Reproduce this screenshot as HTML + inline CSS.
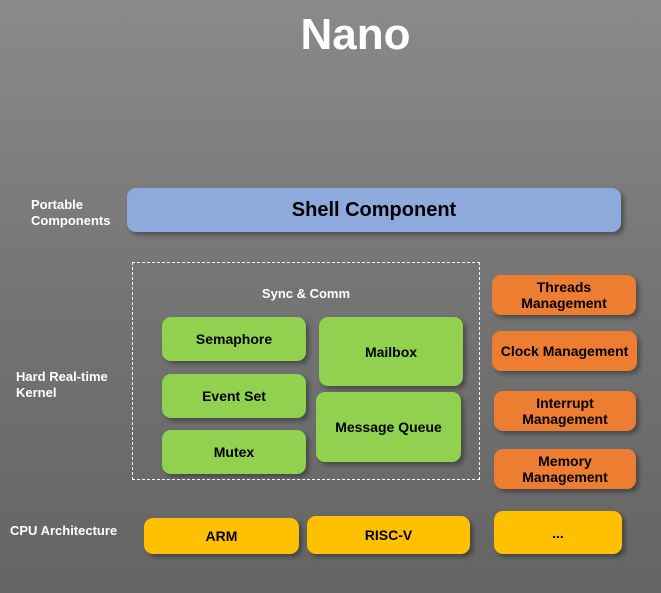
<!DOCTYPE html>
<html><head><style>
body{margin:0;width:661px;height:593px;overflow:hidden;background:linear-gradient(180deg,#8a8a8a 0%,#747474 50%,#646464 100%);font-family:"Liberation Sans",sans-serif;position:relative}
.b{position:absolute;border-radius:9px;display:flex;align-items:center;justify-content:center;text-align:center;font-weight:bold;color:#000;font-size:14px;box-shadow:3px 3px 5px rgba(0,0,0,0.35);line-height:16px}
.g{background:#92D050}.o{background:#ED7D31}.y{background:#FFC000}
.l{position:absolute;color:#fff;font-weight:bold;font-size:13px;line-height:16px}
</style></head><body>
<div style="position:absolute;left:0;width:661px;top:10px;text-align:center;color:#fff;font-weight:bold;font-size:44px;padding-left:50px;box-sizing:border-box">Nano</div>
<div class="l" style="left:31px;top:197px">Portable<br>Components</div>
<div class="l" style="left:16px;top:369px">Hard Real-time<br>Kernel</div>
<div class="l" style="left:10px;top:523px">CPU Architecture</div>
<div class="b" style="left:127px;top:188px;width:494px;height:44px;background:#8EA9DB;font-size:20px">Shell Component</div>
<div style="position:absolute;left:132px;top:262px;width:346px;height:216px;border:1.5px dashed #fff"></div>
<div class="l" style="left:132px;width:348px;text-align:center;top:286px">Sync &amp; Comm</div>
<div class="b g" style="left:162px;top:317px;width:144px;height:44px">Semaphore</div>
<div class="b g" style="left:162px;top:374px;width:144px;height:44px">Event Set</div>
<div class="b g" style="left:162px;top:430px;width:144px;height:44px">Mutex</div>
<div class="b g" style="left:319px;top:317px;width:144px;height:69px">Mailbox</div>
<div class="b g" style="left:316px;top:392px;width:145px;height:70px">Message Queue</div>
<div class="b o" style="left:492px;top:275px;width:144px;height:40px">Threads<br>Management</div>
<div class="b o" style="left:492px;top:331px;width:145px;height:40px">Clock Management</div>
<div class="b o" style="left:494px;top:391px;width:142px;height:40px">Interrupt<br>Management</div>
<div class="b o" style="left:494px;top:449px;width:142px;height:40px">Memory<br>Management</div>
<div class="b y" style="left:144px;top:518px;width:155px;height:36px">ARM</div>
<div class="b y" style="left:307px;top:516px;width:163px;height:38px">RISC-V</div>
<div class="b y" style="left:494px;top:511px;width:128px;height:43px">...</div>
</body></html>
